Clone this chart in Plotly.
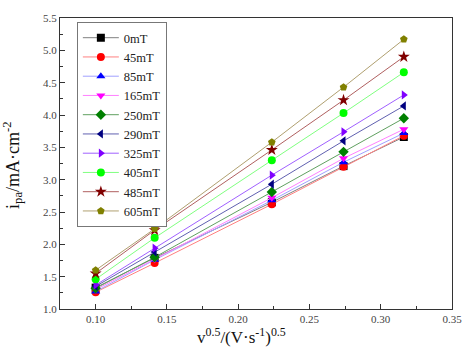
import plotly.graph_objects as go

x_vals = [0.1, 0.1414, 0.2236, 0.2739, 0.3162]

series_names = ["0mT", "45mT", "85mT", "165mT", "250mT", "290mT", "325mT", "405mT", "485mT", "605mT"]

y_0 = [1.33, 1.79, 2.65, 3.21, 3.66]
y_45 = [1.26, 1.71, 2.62, 3.20, 3.68]
y_85 = [1.27, 1.76, 2.68, 3.27, 3.72]
y_165 = [1.30, 1.77, 2.72, 3.33, 3.78]
y_250 = [1.32, 1.80, 2.81, 3.43, 3.95]
y_290 = [1.35, 1.88, 2.93, 3.60, 4.14]
y_325 = [1.37, 1.94, 3.07, 3.74, 4.31]
y_405 = [1.46, 2.10, 3.30, 4.03, 4.66]
y_485 = [1.55, 2.22, 3.46, 4.23, 4.90]
y_605 = [1.60, 2.24, 3.58, 4.43, 5.17]

all_y = [y_0, y_45, y_85, y_165, y_250, y_290, y_325, y_405, y_485, y_605]

x_title = "v<sup>0.5</sup>/(V·s<sup>-1</sup>)<sup>0.5</sup>"
y_title = "i<sub>pa</sub>/mA·cm<sup>-2</sup>"

colors = ["#000000", "#ff0000", "#0000ff", "#ff00ff", "#008000",
          "#000080", "#8000ff", "#00ff00", "#800000", "#808000"]
line_colors = ["#808080", "#ff8080", "#a0a0ff", "#ff80ff", "#60a060",
               "#6060b0", "#a060ff", "#80ff80", "#b06060", "#b0a070"]
symbols = ["square", "circle", "triangle-up", "triangle-down", "diamond",
           "triangle-left", "triangle-right", "circle", "star", "pentagon"]

fig = go.Figure()
for name, ys, c, lc, s in zip(series_names, all_y, colors, line_colors, symbols):
    fig.add_trace(go.Scatter(
        x=x_vals, y=ys, name=name, mode="lines+markers",
        line=dict(color=lc, width=1),
        marker=dict(symbol=s, color=c, size=8 if s != "star" else 9, line=dict(width=0)),
    ))

font_family = "Liberation Serif, Times New Roman, serif"

fig.update_layout(
    width=474, height=361,
    margin=dict(l=60, r=22, t=18, b=52, autoexpand=False),
    paper_bgcolor="white", plot_bgcolor="white",
    font=dict(family=font_family, color="#222"),
    showlegend=True,
    legend=dict(
        x=0.043, y=0.986, xanchor="left", yanchor="top",
        bordercolor="#777", borderwidth=1, bgcolor="white",
        font=dict(family=font_family, size=12.5, color="#222"),
        tracegroupgap=0, itemwidth=36,
    ),
    xaxis=dict(
        automargin=False,
        range=[0.075, 0.35], tickvals=[0.10, 0.15, 0.20, 0.25, 0.30, 0.35],
        ticktext=["0.10", "0.15", "0.20", "0.25", "0.30", "0.35"],
        ticks="inside", ticklen=5, tickcolor="#333", showgrid=False, zeroline=False,
        showline=True, linecolor="#333", linewidth=1, mirror=True,
        minor=dict(ticks="inside", ticklen=3, tickcolor="#333", dtick=0.025, tick0=0.075),
        tickfont=dict(size=11, color="#444"),
    ),
    yaxis=dict(
        automargin=False,
        range=[1.0, 5.5], tickvals=[1.0, 1.5, 2.0, 2.5, 3.0, 3.5, 4.0, 4.5, 5.0, 5.5],
        ticktext=["1.0", "1.5", "2.0", "2.5", "3.0", "3.5", "4.0", "4.5", "5.0", "5.5"],
        ticks="inside", ticklen=5, tickcolor="#333", showgrid=False, zeroline=False,
        showline=True, linecolor="#333", linewidth=1, mirror=True,
        minor=dict(ticks="inside", ticklen=3, tickcolor="#333", dtick=0.25, tick0=1.0),
        tickfont=dict(size=11, color="#444"),
    ),
    annotations=[
        dict(text=x_title, xref="paper", yref="paper", x=0.462, y=-0.092,
             xanchor="center", yanchor="middle", showarrow=False,
             font=dict(family=font_family, size=17, color="#111")),
        dict(text=y_title, xref="paper", yref="paper", x=-0.12, y=0.495,
             xanchor="center", yanchor="middle", showarrow=False, textangle=-90,
             font=dict(family=font_family, size=18, color="#111")),
    ],
)

fig.write_html("out.html", config={"displayModeBar": False},
               post_script="document.body.style.margin='0';")
